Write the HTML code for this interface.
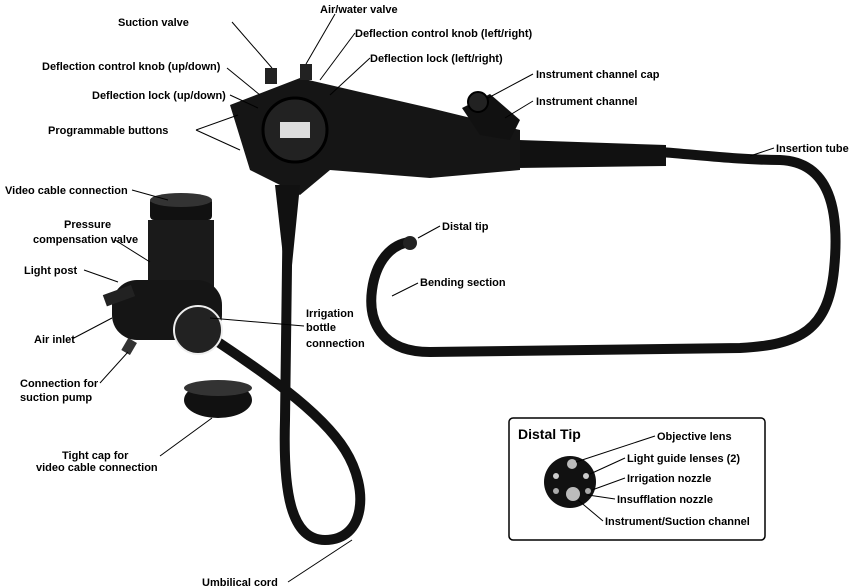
<!DOCTYPE html>
<html><head><meta charset="utf-8"><style>
html,body{margin:0;padding:0;background:#fff}
svg{display:block}
text{font-family:"Liberation Sans",Arial,sans-serif;font-weight:bold;font-size:11px;fill:#000}
</style></head><body>
<svg width="850" height="587" viewBox="0 0 850 587" xmlns="http://www.w3.org/2000/svg">
<g fill="none" stroke="#111" stroke-linecap="round">
<!-- insertion tube -->
<path d="M520 148 L660 152 C700 155 740 160 780 160 C830 162 840 210 834 270 C828 330 800 345 740 348 L430 352 C380 352 368 320 372 290 C376 260 392 244 410 242" stroke-width="10"/>
<path d="M430 138 L665 146 L665 165 L440 168 Z" fill="#111" stroke-width="2"/>
<!-- umbilical cord -->
<path d="M288 190 L285 420 C283 490 290 540 325 540 C365 540 370 490 345 450 C320 410 260 370 200 330" stroke-width="10"/>
</g>
<!-- handle -->
<path d="M230 105 L300 78 L360 92 L430 108 L520 130 L520 170 L430 178 L330 170 L300 195 L250 170 Z" fill="#151515"/>
<circle cx="295" cy="130" r="32" fill="#222" stroke="#000" stroke-width="3"/>
<rect x="280" y="122" width="30" height="16" fill="#ddd"/>
<path d="M275 185 L300 185 L292 265 L284 265 Z" fill="#111"/>
<rect x="265" y="68" width="12" height="16" fill="#222"/><rect x="300" y="64" width="12" height="16" fill="#222"/>
<path d="M462 108 L490 94 L520 120 L510 140 L480 135 Z" fill="#111"/>
<circle cx="478" cy="102" r="10" fill="#222" stroke="#000" stroke-width="2"/>
<circle cx="410" cy="243" r="7" fill="#222"/>
<!-- video connector -->
<rect x="150" y="198" width="62" height="22" rx="4" fill="#111"/>
<rect x="148" y="220" width="66" height="70" fill="#1a1a1a"/>
<ellipse cx="181" cy="200" rx="31" ry="7" fill="#333"/>
<rect x="112" y="280" width="110" height="60" rx="25" fill="#151515"/>
<circle cx="198" cy="330" r="24" fill="#222" stroke="#eee" stroke-width="2"/>
<rect x="104" y="290" width="30" height="12" fill="#222" transform="rotate(-20 118 296)"/>
<rect x="124" y="340" width="10" height="14" fill="#333" transform="rotate(30 130 347)"/>
<ellipse cx="218" cy="400" rx="34" ry="18" fill="#111"/>
<ellipse cx="218" cy="388" rx="34" ry="8" fill="#333"/>
<!-- leader lines -->
<g stroke="#000" stroke-width="1" fill="none">
<path d="M232 22 L272 68"/><path d="M335 14 L306 64"/><path d="M355 33 L320 80"/><path d="M370 58 L330 95"/>
<path d="M533 74 L488 98"/><path d="M533 101 L505 118"/>
<path d="M227 68 L260 95"/><path d="M230 95 L258 108"/><path d="M196 130 L238 115 M196 130 L240 150"/>
<path d="M774 148 L750 156"/><path d="M132 190 L168 200"/><path d="M115 240 L150 262"/>
<path d="M440 226 L418 238"/><path d="M418 283 L392 296"/><path d="M84 270 L118 282"/>
<path d="M304 326 L210 318"/><path d="M72 339 L112 318"/><path d="M100 383 L128 352"/>
<path d="M160 456 L212 418"/><path d="M288 582 L352 540"/>
</g>
<!-- labels -->
<text x="118" y="26">Suction valve</text>
<text x="320" y="13">Air/water valve</text>
<text x="355" y="37">Deflection control knob (left/right)</text>
<text x="370" y="62">Deflection lock (left/right)</text>
<text x="536" y="78">Instrument channel cap</text>
<text x="536" y="105">Instrument channel</text>
<text x="42" y="70">Deflection control knob (up/down)</text>
<text x="92" y="99">Deflection lock (up/down)</text>
<text x="48" y="134">Programmable buttons</text>
<text x="776" y="152">Insertion tube</text>
<text x="5" y="194">Video cable connection</text>
<text x="64" y="228">Pressure</text>
<text x="33" y="243">compensation valve</text>
<text x="442" y="230">Distal tip</text>
<text x="24" y="274">Light post</text>
<text x="420" y="286">Bending section</text>
<text x="306" y="317">Irrigation</text>
<text x="306" y="331">bottle</text>
<text x="306" y="347">connection</text>
<text x="34" y="343">Air inlet</text>
<text x="20" y="387">Connection for</text>
<text x="20" y="401">suction pump</text>
<text x="62" y="459">Tight cap for</text>
<text x="36" y="471">video cable connection</text>
<text x="202" y="586">Umbilical cord</text>
<!-- distal tip box -->
<rect x="509" y="418" width="256" height="122" rx="4" fill="#fff" stroke="#000" stroke-width="1.5"/>
<text x="518" y="439" style="font-size:14px">Distal Tip</text>
<circle cx="570" cy="482" r="26" fill="#111"/>
<circle cx="572" cy="464" r="5" fill="#bbb"/><circle cx="556" cy="476" r="3" fill="#ccc"/><circle cx="586" cy="476" r="3" fill="#ccc"/>
<circle cx="556" cy="491" r="3" fill="#aaa"/><circle cx="573" cy="494" r="7" fill="#bbb"/><circle cx="588" cy="491" r="3" fill="#aaa"/>
<g stroke="#000" stroke-width="1" fill="none"><path d="M655 436 L576 462"/><path d="M625 458 L590 474"/><path d="M625 478 L592 490"/><path d="M615 499 L588 495"/><path d="M603 521 L578 500"/></g>
<text x="657" y="440">Objective lens</text>
<text x="627" y="462">Light guide lenses (2)</text>
<text x="627" y="482">Irrigation nozzle</text>
<text x="617" y="503">Insufflation nozzle</text>
<text x="605" y="525">Instrument/Suction channel</text>
</svg>
</body></html>
